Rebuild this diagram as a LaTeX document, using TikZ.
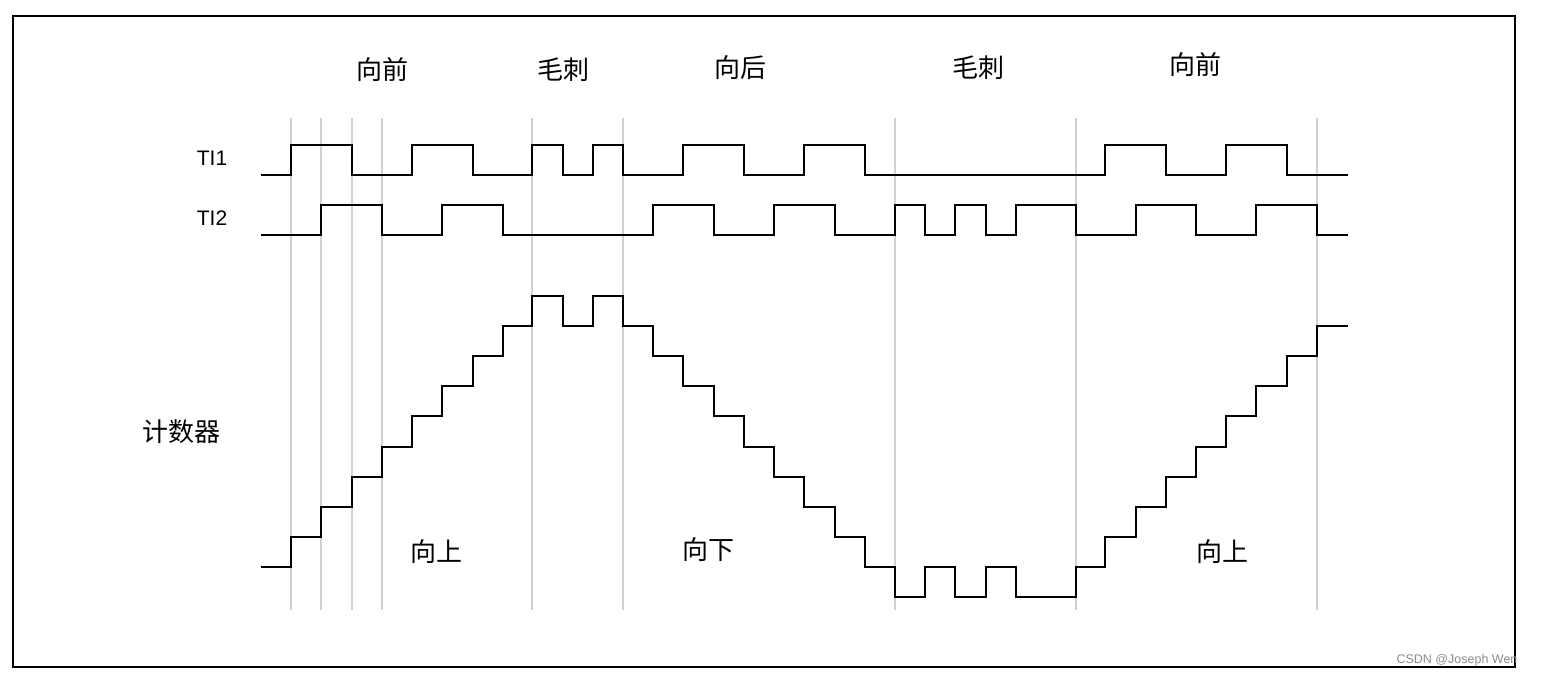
\documentclass[tikz,border=0pt]{standalone}
\usepackage{fontspec}
\setmainfont{Liberation Sans}
\newfontfamily\cjk{Noto Sans CJK SC}
\begin{document}
\begin{tikzpicture}[x=1pt,y=-1pt,
  sig/.style={line width=2pt,line join=miter},
  grid/.style={draw=black!18,line width=1.3pt},
  cn/.style={font=\cjk\fontsize{26}{26}\selectfont,inner sep=0pt},
  lb/.style={font=\fontsize{21}{21}\selectfont,inner sep=0pt}]
\useasboundingbox (0,0) rectangle (1544,677);
\fill[white] (0,0) rectangle (1544,677);
\draw[line width=1.5pt] (13,16) rectangle (1515,667);
\foreach \x in {291,321,352,382,532,623,895,1076,1317}
  \draw[grid] (\x,118) -- (\x,610);
\draw[sig] (261,175) -|(291,145) -|(352,175) -|(412,145) -|(473,175) -|(532,145) -|(563,175) -|(593,145) -|(623,175) -|(683,145) -|(744,175) -|(804,145) -|(865,175) -|(1105,145) -|(1166,175) -|(1226,145) -|(1287,175) -- (1348,175);
\draw[sig] (261,235) -|(321,205) -|(382,235) -|(442,205) -|(503,235) -|(653,205) -|(714,235) -|(774,205) -|(835,235) -|(895,205) -|(925,235) -|(955,205) -|(986,235) -|(1016,205) -|(1076,235) -|(1136,205) -|(1196,235) -|(1256,205) -|(1317,235) -- (1348,235);
\draw[sig] (261,567) -|(291,537) -|(321,507) -|(352,477) -|(382,447) -|(412,416) -|(442,386) -|(473,356) -|(503,326) -|(532,296) -|(563,326) -|(593,296) -|(623,326) -|(653,356) -|(683,386) -|(714,416) -|(744,447) -|(774,477) -|(804,507) -|(835,537) -|(865,567) -|(895,597) -|(925,567) -|(955,597) -|(986,567) -|(1016,597) -|(1076,567) -|(1105,537) -|(1136,507) -|(1166,477) -|(1196,447) -|(1226,416) -|(1256,386) -|(1287,356) -|(1317,326) -- (1348,326);
\node[cn] (t1) at (382,70) {向前};
\node[cn] (t2) at (563,70) {毛刺};
\node[cn] (t3) at (740,68) {向后};
\node[cn] (t4) at (978,68) {毛刺};
\node[cn] (t5) at (1195,65) {向前};
\node[lb] (a) at (212,158) {TI1};
\node[lb] (b) at (212,218) {TI2};
\node[cn] (c) at (181,432) {计数器};
\node[cn] (u1) at (436,552) {向上};
\node[cn] (d1) at (708,550) {向下};
\node[cn] (u2) at (1222,552) {向上};
\node[font=\fontsize{12.5}{12.5}\selectfont,text=black!45,inner sep=0pt] (w) at (1457,660) {CSDN @Joseph Wen};
\end{tikzpicture}
\end{document}
